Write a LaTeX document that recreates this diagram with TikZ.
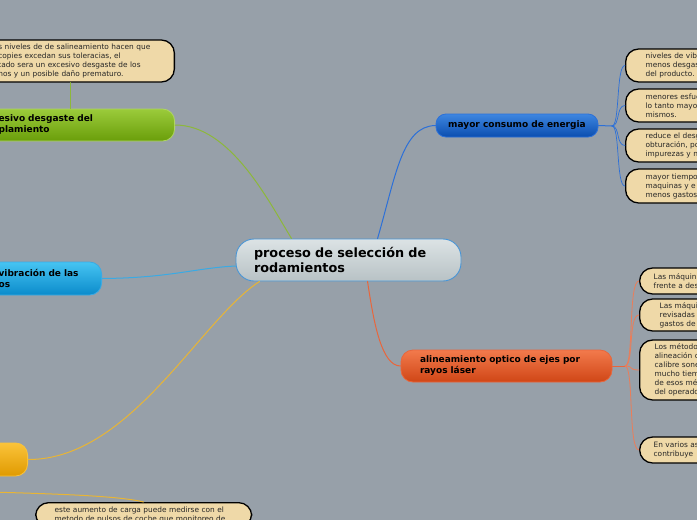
\documentclass[tikz,border=0pt]{standalone}
\usepackage{fontspec}
\setmainfont{DejaVu Sans}
\usetikzlibrary{calc}
\definecolor{bgmap}{HTML}{97A0A9}
\definecolor{notefill}{HTML}{EFD9A8}
\definecolor{hubedge}{HTML}{4A96D6}
\definecolor{hubtop}{HTML}{DCE3E5}\definecolor{hubbot}{HTML}{B8C2C5}
\definecolor{greentop}{HTML}{9BCB3B}\definecolor{greenbot}{HTML}{6A9E0A}\definecolor{greenln}{HTML}{8DB83A}
\definecolor{cyantop}{HTML}{46C4F2}\definecolor{cyanbot}{HTML}{0B8BCB}\definecolor{cyanln}{HTML}{3AAAE4}
\definecolor{yeltop}{HTML}{FAC33A}\definecolor{yelbot}{HTML}{E09A00}\definecolor{yelln}{HTML}{E8B535}
\definecolor{bluetop}{HTML}{3E86E0}\definecolor{bluebot}{HTML}{0B4EB0}\definecolor{blueln}{HTML}{2C70D8}
\definecolor{redtop}{HTML}{F27A4C}\definecolor{redbot}{HTML}{D04616}\definecolor{redln}{HTML}{E8663C}
\tikzset{
  note/.style={draw=black,line width=1.3pt,fill=notefill,rounded corners=13pt,align=left,
    inner ysep=0pt,text=black!85,font=\fontsize{7.4}{9}\selectfont},
  topic/.style={rounded corners=12pt,align=left,inner ysep=0pt,line width=0.8pt,
    font=\fontsize{9}{11}\selectfont\bfseries},
  hub/.style={draw=hubedge,line width=0.9pt,top color=hubtop,bottom color=hubbot,
    rounded corners=18pt,align=left,font=\fontsize{12.8}{15}\selectfont\bfseries},
  link/.style={line width=1pt}
}
\begin{document}
\begin{tikzpicture}[x=1pt,y=-1pt,line cap=round,line join=round]
\useasboundingbox (0,0) rectangle (697,520);
\clip (0,0) rectangle (697,520);
\fill[bgmap] (0,0) rectangle (697,520);

\node[hub,minimum width=225pt,minimum height=42pt,text width=189pt,inner sep=0pt] (ctr) at (348.5,260) {proceso de selección de\\rodamientos};

\node[note,anchor=east,minimum width=192pt,minimum height=42pt,text width=160pt] (tnote) at (175,61) {s niveles de de salineamiento hacen que\\copies excedan sus toleracias, el\\tado sera un excesivo desgaste de los\\nos y un posible daño prematuro.};
\node[topic,anchor=east,draw=greentop!80!white,top color=greentop,bottom color=greenbot,minimum width=252pt,minimum height=32pt,text width=100pt] (wear) at (175,125) {esivo desgaste del\\plamiento};
\node[topic,anchor=east,draw=cyanln,top color=cyantop,bottom color=cyanbot,minimum width=120pt,minimum height=33pt,text width=86pt] (vib) at (102,278.5) {vibración de las\\os};
\node[topic,anchor=east,draw=yeltop,top color=yeltop,bottom color=yelbot,minimum width=70pt,minimum height=33pt] (load) at (28,459.5) {};
\node[note,anchor=north west,text width=178pt,inner xsep=19pt,inner ysep=4pt] (bnote) at (35,502) {este aumento de carga puede medirse con el\\metodo de pulsos de coche que monitoreo de};

\node[topic,align=center,draw=blueln,top color=bluetop,bottom color=bluebot,rounded corners=10pt,minimum width=162pt,minimum height=23pt] (energy) at (517,125.5) {mayor consumo de energia};
\node[note,anchor=west,minimum width=120pt,minimum height=33pt,text width=80pt,inner xsep=20pt] (en1) at (625,65.5) {niveles de vib\\menos desgas\\del producto.};
\node[note,anchor=west,minimum width=120pt,minimum height=33pt,text width=80pt,inner xsep=20pt] (en2) at (625,105.5) {menores esfue\\lo tanto mayo\\mismos.};
\node[note,anchor=west,minimum width=120pt,minimum height=33pt,text width=80pt,inner xsep=20pt] (en3) at (625,145.5) {reduce el desg\\obturación, po\\impurezas y n};
\node[note,anchor=west,minimum width=120pt,minimum height=34pt,text width=80pt,inner xsep=20pt] (en4) at (625,186) {mayor tiempo\\maquinas y e\\menos gastos};

\node[topic,draw=redln,top color=redtop,bottom color=redbot,minimum width=211pt,minimum height=32pt,text width=173pt,inner xsep=0pt] (laser) at (506.5,366) {alineamiento optico de ejes por\\rayos láser};
\node[note,anchor=west,minimum width=100pt,minimum height=26pt,text width=72pt,inner xsep=14pt] (la1) at (639,281) {Las máquin\\frente a des};
\node[note,anchor=west,minimum width=100pt,minimum height=32pt,text width=64pt,inner xsep=20pt] (la2) at (639,315) {Las máqui\\revisadas\\gastos de};
\node[note,anchor=west,minimum width=100pt,minimum height=60pt,text width=72pt,inner xsep=15pt] (la3) at (639,370) {Los método\\alineación c\\calibre sone\\mucho tiem\\de esos mé\\del operado};
\node[note,anchor=west,minimum width=100pt,minimum height=26pt,text width=72pt,inner xsep=14pt] (la4) at (639,450) {En varios as\\contribuye};

\coordinate (efork) at (612,126);
\coordinate (lfork) at (625,366);
\coordinate (ycut) at (-10,492);

\draw[link,greenln] (wear.east) .. controls (230,125) and (268,200) .. ($(ctr.north west)+(56,0)$);
\draw[link,greenln] ($(tnote.south east)+(-105,0)$) -- ($(wear.north east)+(-105,0)$);
\draw[link,cyanln] (vib.east) .. controls (170,278) and (195,268) .. ($(ctr.west)+(0,6)$);
\draw[link,yelln] (load.east) .. controls (130,460) and (200,320) .. ($(ctr.south west)+(24,0)$);
\draw[link,yelln] (ycut) .. controls (60,494) and (120,496) .. (bnote.north);
\draw[link,blueln] ($(ctr.north west)+(142,0)$) .. controls (396,175) and (402,126) .. (energy.west);
\draw[link,blueln] (energy.east) -- (efork);
\foreach \n in {en1,en2,en3,en4}
  \draw[blueln,line width=0.7pt] (efork) .. controls (620,126) and (616,0|-\n.west) .. (\n.west);
\draw[link,redln] ($(ctr.south west)+(132,0)$) .. controls (374,325) and (382,366) .. (laser.west);
\draw[link,redln] (laser.east) -- (lfork);
\foreach \n in {la1,la2,la3,la4}
  \draw[redln!85!white,line width=0.8pt] (lfork) .. controls (634,366) and (628,0|-\n.west) .. (\n.west);
\end{tikzpicture}
\end{document}
